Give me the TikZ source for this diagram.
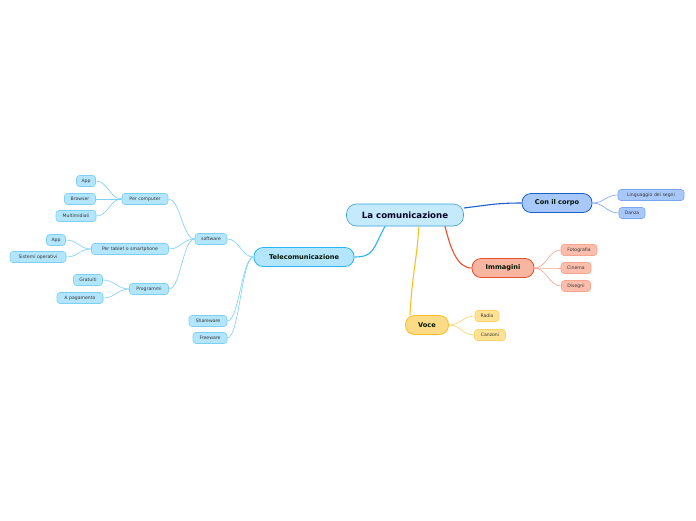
\documentclass[tikz,border=0pt]{standalone}
\usepackage{fontspec}
\setmainfont{DejaVu Sans}
\begin{document}
\begin{tikzpicture}[x=1pt,y=-1pt,
 base/.style={rounded corners=3pt,draw,line width=0.6pt,inner sep=0pt,text=black!80},
 leaf/.style={base,minimum height=11pt,font=\fontsize{4.6}{5}\selectfont,text width=#1,align=center},
 mainn/.style={base,rounded corners=9pt,minimum height=19pt,line width=0.8pt,font=\fontsize{6.6}{7}\selectfont\bfseries,text=black!80!green!40!black},
 tb/.style={fill=tfill,draw=tbord}, tl/.style={fill=tfill,draw=tlbord},
 cb/.style={fill=cfill,draw=cbord}, cl/.style={fill=cfill,draw=clbord},
 ib/.style={fill=ifill,draw=ibord}, il/.style={fill=ilfill,draw=ilbord},
 vb/.style={fill=vfill,draw=vbord}, vl/.style={fill=vlfill,draw=vlbord},
 lk/.style={line width=0.6pt}]
\definecolor{tfill}{HTML}{B3E5FC}\definecolor{tbord}{HTML}{29B6F6}\definecolor{tlbord}{HTML}{7DD0F5}
\definecolor{cfill}{HTML}{A8C8FA}\definecolor{cbord}{HTML}{1E5FCF}\definecolor{clbord}{HTML}{7AA6F0}
\definecolor{ifill}{HTML}{F8B6A2}\definecolor{ibord}{HTML}{E8502A}\definecolor{ilfill}{HTML}{FBBEAC}\definecolor{ilbord}{HTML}{F7A58E}
\definecolor{vfill}{HTML}{FEDB87}\definecolor{vbord}{HTML}{FBBF24}\definecolor{vlfill}{HTML}{FEE293}\definecolor{vlbord}{HTML}{FDD36A}
\definecolor{rfill}{HTML}{C5EAFB}\definecolor{rbord}{HTML}{3A9FD8}
\useasboundingbox[fill=white] (0,0) rectangle (696,520);
% root and main
\node[base,rounded corners=10pt,fill=rfill,draw=rbord,minimum width=117pt,minimum height=22pt,font=\fontsize{8.6}{9}\selectfont\bfseries,text=black!85!blue] (root) at (405,215) {La comunicazione};
\node[mainn,fill=cfill,draw=cbord,minimum width=70pt] (corpo) at (557,203) {Con il corpo};
\node[mainn,ib,minimum width=62pt] (imm) at (503,268) {Immagini};
\node[mainn,vb,minimum width=43pt] (voce) at (427,325) {Voce};
\node[mainn,tb,minimum width=100pt] (tel) at (304,257) {Telecomunicazione};
% leaves
\node[leaf=66pt,cl] (ling) at (651,195) {Linguaggio dei segni};
\node[leaf=26pt,cl] (danza) at (632,213) {Danza};
\node[leaf=36pt,il] (foto) at (579,250) {Fotografia};
\node[leaf=30pt,il] (cine) at (576,268) {Cinema};
\node[leaf=29pt,il] (dis) at (576,286) {Disegni};
\node[leaf=24pt,vl] (radio) at (487,316) {Radio};
\node[leaf=31pt,vl] (canz) at (490,335) {Canzoni};
\node[leaf=32pt,tl] (soft) at (211,239) {software};
\node[leaf=38pt,tl] (share) at (208,321) {Shareware};
\node[leaf=34pt,tl] (free) at (210,338) {Freeware};
\node[leaf=46pt,tl] (pc) at (145,199) {Per computer};
\node[leaf=19pt,tl] (app1) at (86,181) {App};
\node[leaf=31pt,tl] (brow) at (80,199) {Browser};
\node[leaf=40pt,tl] (multi) at (76,216) {Multimidiali};
\node[leaf=77pt,tl] (tab) at (130,249) {Per tablet o smartphone};
\node[leaf=19pt,tl] (app2) at (56,240) {App};
\node[leaf=56pt,tl] (sist) at (38,257) {Sistemi operativi};
\node[leaf=39pt,tl] (prog) at (149,289) {Programmi};
\node[leaf=29pt,tl] (grat) at (88,280) {Gratuiti};
\node[leaf=46pt,tl] (pag) at (80,298) {A pagamento};
% main links
\draw[line width=1.1pt,draw=cbord] (root.east) ++(0,-7) .. controls +(25,-3) and +(-25,0) .. (corpo.west);
\draw[line width=1.1pt,draw=ibord] ([xshift=40pt]root.south) .. controls +(5,20) and +(-15,0) .. (imm.west);
\draw[line width=1.1pt,draw=vbord] ([xshift=14pt]root.south) .. controls +(-3,40) and +(2,-40) .. ([xshift=-17pt]voce.north);
\draw[line width=1.1pt,draw=tbord] ([xshift=-20pt]root.south) .. controls +(-12,22) and +(20,0) .. (tel.east);
% leaf links
\foreach \p/\c/\col in {corpo/ling/clbord,corpo/danza/clbord,imm/foto/ilbord,imm/cine/ilbord,imm/dis/ilbord,voce/radio/vlbord,voce/canz/vlbord}
  \draw[lk,draw=\col] (\p.east) .. controls +(12,0) and +(-12,0) .. (\c.west);
\foreach \p/\c in {tel/soft,tel/share,tel/free,soft/pc,soft/tab,soft/prog,pc/app1,pc/brow,pc/multi,tab/app2,tab/sist,prog/grat,prog/pag}
  \draw[lk,draw=tlbord] (\p.west) .. controls +(-12,0) and +(12,0) .. (\c.east);
\end{tikzpicture}
\end{document}
